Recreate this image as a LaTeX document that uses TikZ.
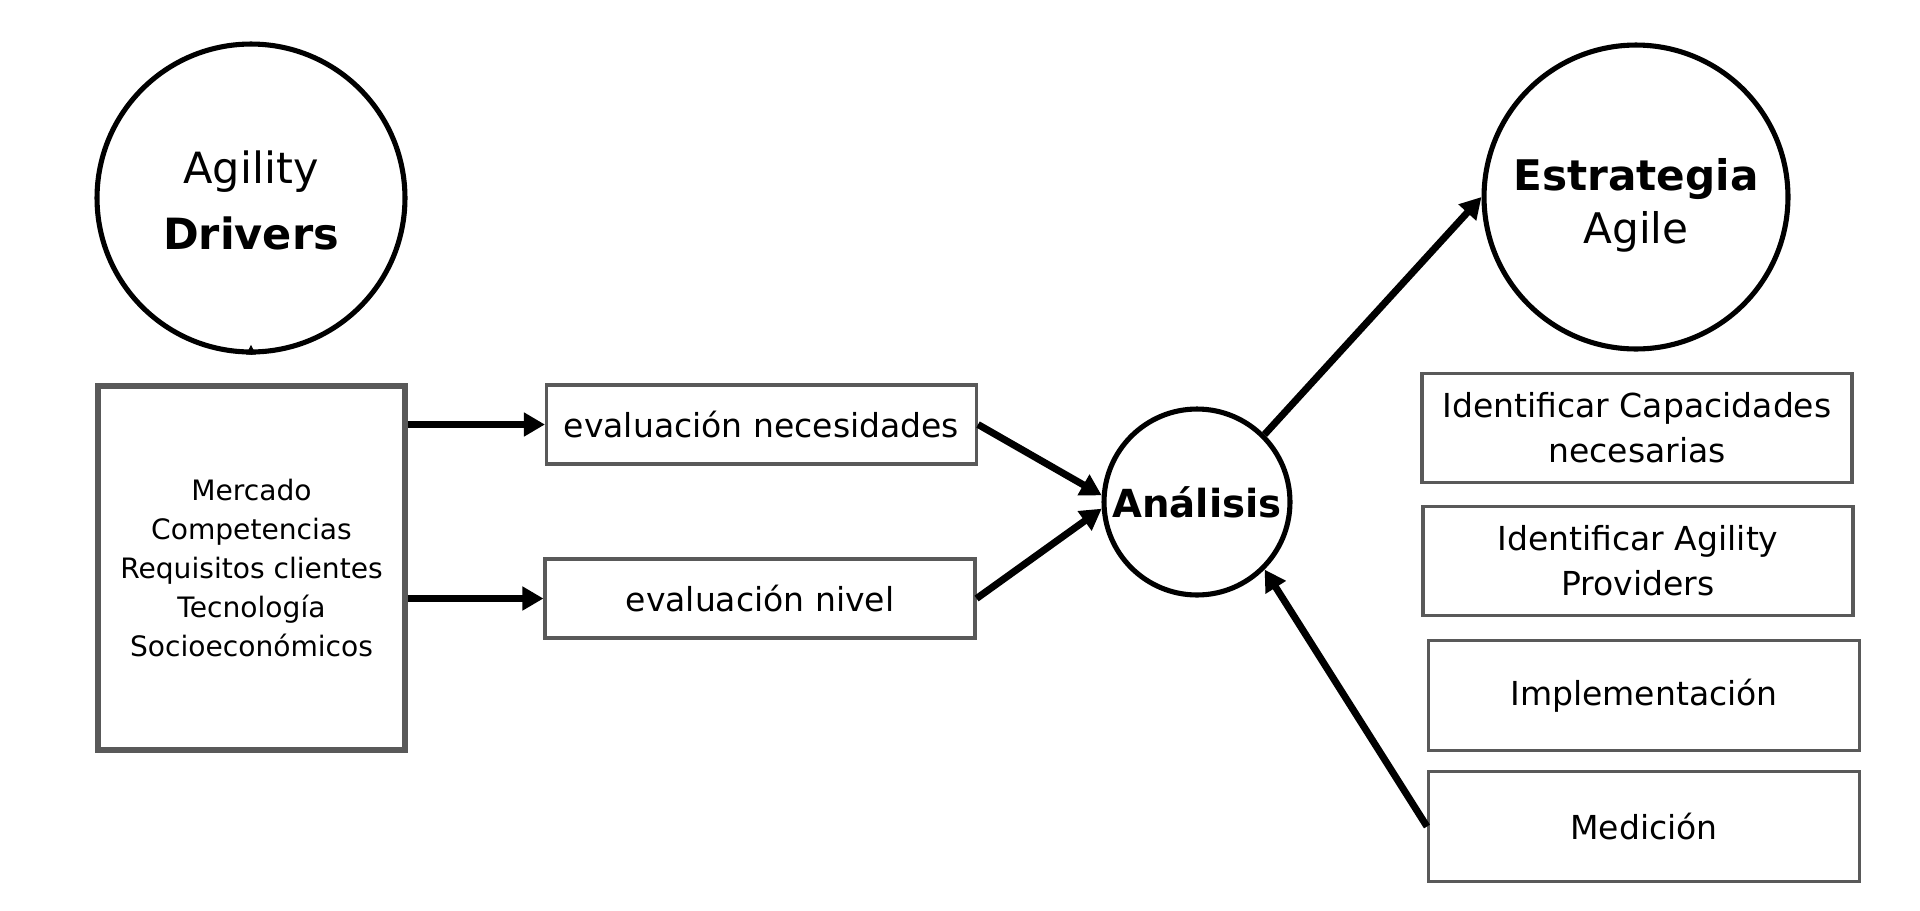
\documentclass[tikz,border=0pt]{standalone}
\usepackage{fontspec}
\setmainfont{DejaVu Sans}
\usetikzlibrary{arrows.meta}
\definecolor{boxgray}{RGB}{89,89,89}

\begin{document}
\begin{tikzpicture}
  [x=0.02cm,y=-0.02cm,
   circ/.style={draw,circle,line width=2.9pt,inner sep=0pt,align=center},
   box/.style={draw=boxgray,rectangle,line width=1.8pt,inner sep=0pt,align=center,
     minimum width=8.6cm,font=\fontsize{18.8pt}{25.6pt}\selectfont},
   arr/.style={-{Triangle[length=12pt,width=13pt]},line width=4pt}]
  \useasboundingbox (0,0) rectangle (1920,910);
  \node[circ,minimum size=6.16cm,text height=58.4pt,font=\fontsize{24.5pt}{37pt}\selectfont] (drivers) at (251,198) {Agility\\\textbf{Drivers}};
  \node[draw=boxgray,line width=3.4pt,minimum width=6.14cm,minimum height=7.28cm,align=center,
    font=\fontsize{16pt}{22.2pt}\selectfont] (factores) at (251.5,568)
    {Mercado\\Competencias\\Requisitos clientes\\Tecnología\\Socioeconómicos};
  \node[box,minimum height=1.58cm] (evalnec) at (761.5,424.5) {evaluación necesidades};
  \node[box,minimum height=1.58cm] (evalniv) at (760,598.5) {evaluación nivel};
  \node[circ,minimum size=3.72cm,font=\fontsize{22pt}{26pt}\selectfont\bfseries] (analisis) at (1197,502) {Análisis};
  \node[circ,minimum size=6.08cm,text height=58pt,font=\fontsize{24pt}{30pt}\selectfont] (estrategia) at (1636,197) {\textbf{Estrategia}\\Agile};
  \node[box,minimum height=2.18cm] (capac) at (1637,428) {Identificar Capacidades\\necesarias};
  \node[box,minimum height=2.18cm] (provid) at (1638,561) {Identificar Agility\\Providers};
  \node[box,minimum height=2.2cm,minimum width=8.62cm] (implem) at (1644,695.5) {Implementación};
  \node[box,minimum height=2.2cm,minimum width=8.62cm] (medicion) at (1644,826.5) {Medición};
  % small tip under the drivers circle
  \coordinate (dtip) at ([yshift=5.5pt]drivers.south);
  \draw[-{Triangle[length=5.5pt,width=5.5pt]},line width=0.5pt] (drivers.south) -- (dtip);
  \draw[arr] (factores.east |- evalnec.west) -- (evalnec.west);
  \draw[arr] (factores.east |- evalniv.west) -- (evalniv.west);
  \foreach \from/\to in {evalnec.east/analisis.176,evalniv.east/analisis.184,analisis.45/estrategia.west,medicion.west/analisis.-45}
    \draw[arr] (\from) -- (\to);
\end{tikzpicture}
\end{document}
